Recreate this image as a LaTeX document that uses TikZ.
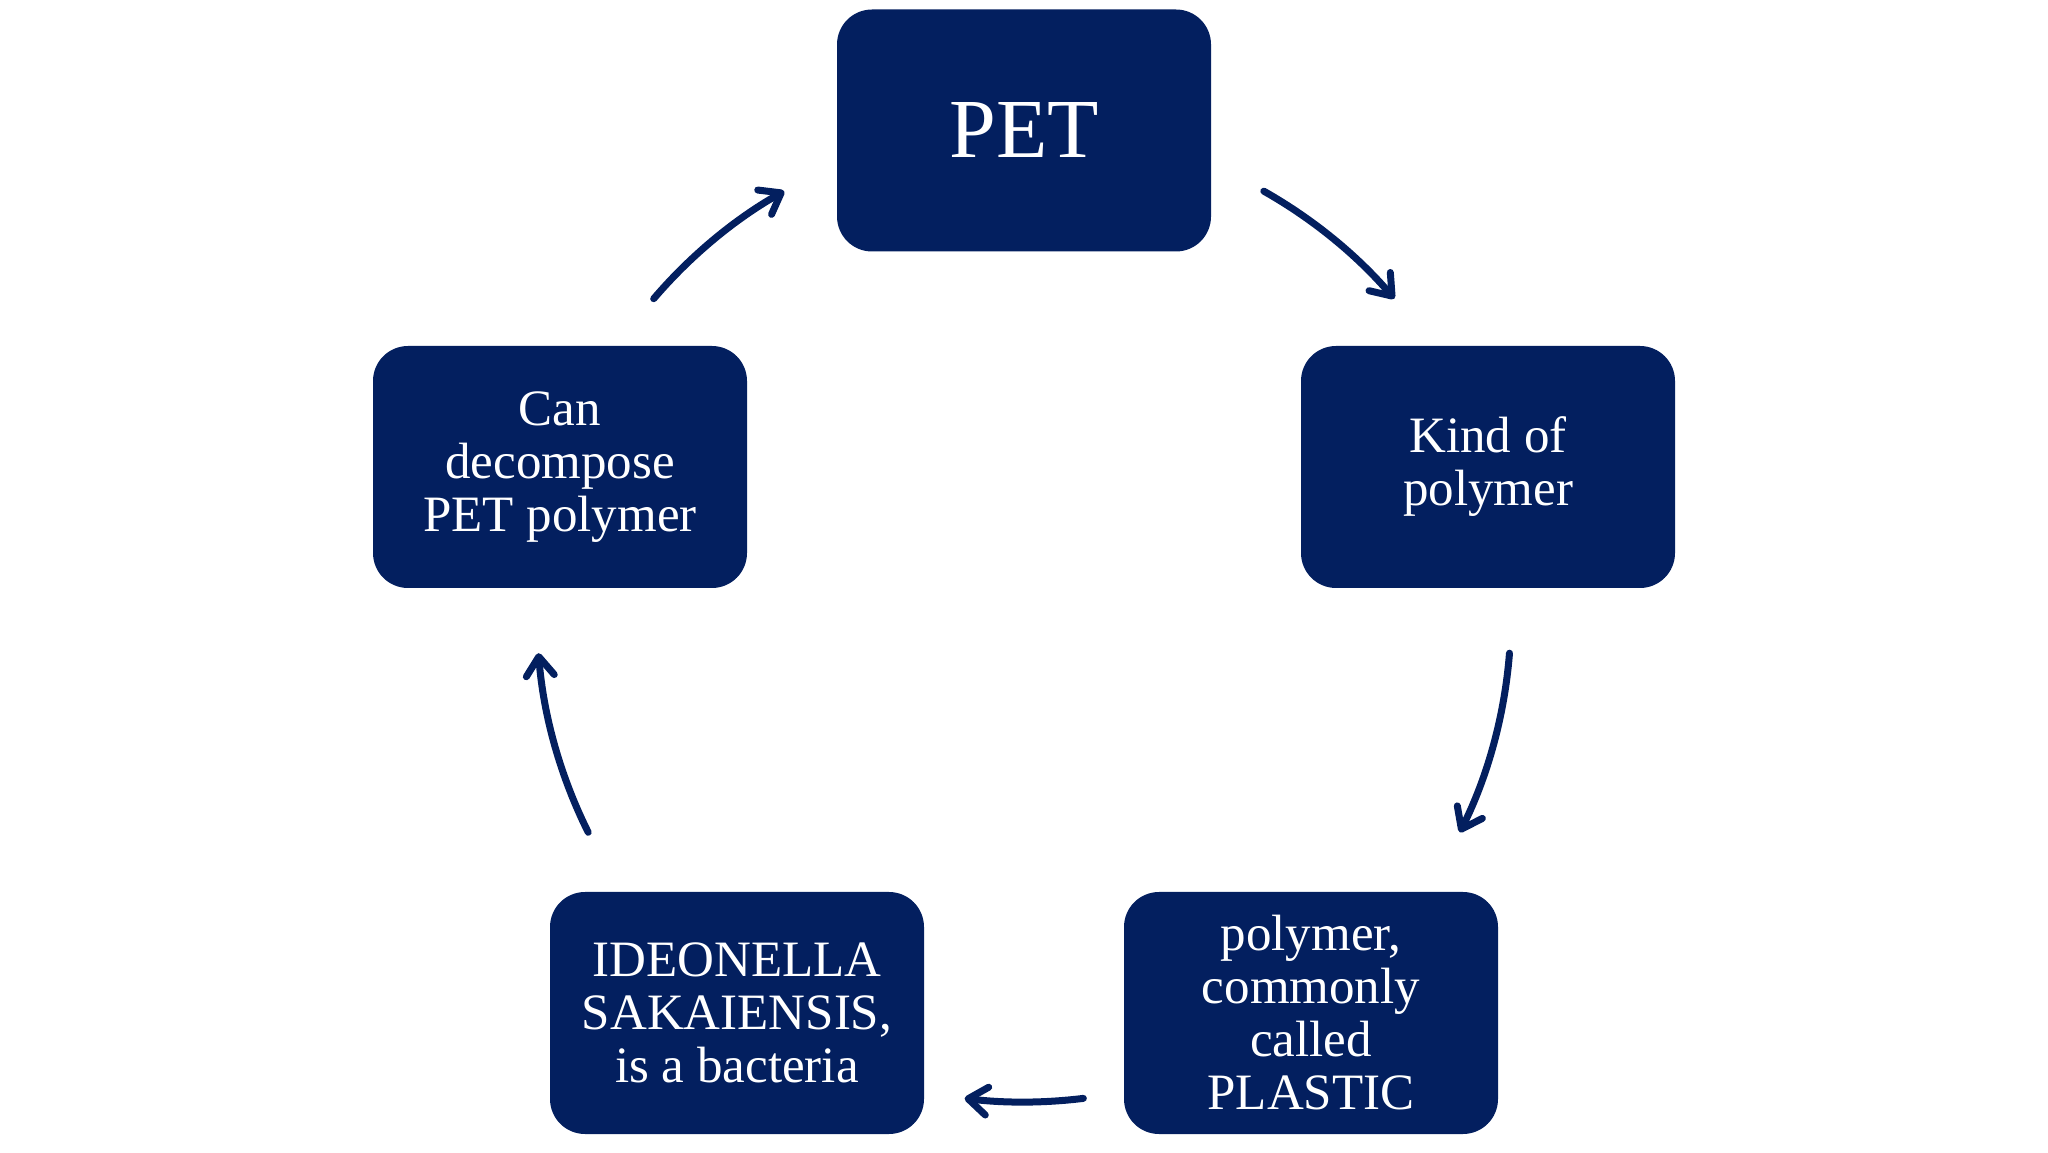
\documentclass[tikz,border=0pt]{standalone}
\usepackage{fontspec}
\setmainfont{Liberation Serif}
\usepackage{tikz}
\usetikzlibrary {arrows.meta}

\definecolor{navy}{RGB}{3,31,95}

\begin{document}
\begin{tikzpicture}[x=1pt,y=1pt,
  stage/.style={fill=navy, rounded corners=35pt, minimum width=374pt,
    minimum height=242pt, inner sep=0pt, text=white, align=center,
    font=\fontsize{51}{53}\selectfont},
  cyc/.style={navy, line width=7pt, line cap=round,
    -{Straight Barb[length=19pt, width=28pt, round]}}]
 \useasboundingbox (0,0) rectangle (2048,1152);
 \coordinate (hub) at (1024,537);
 \node[stage, font=\fontsize{84}{86}\selectfont] (pet) at (1024,1021.5) {PET};
 \node[stage] (kind) at (1488,685) {Kind of\\polymer};
 \node[stage] (plastic) at (1311,139) {polymer,\\commonly\\called\\PLASTIC};
 \node[stage] (bact) at (737,139) {IDEONELLA\\SAKAIENSIS,\\is a bacteria};
 \node[stage] (decomp) at (560,685) {Can\\decompose\\PET polymer};
% cycle arrows round the hub
 \foreach \a/\b in {60.5/40.5, -4.5/-26.5, -83/-97, 206.5/184.5, 139.5/119.5}
   \draw[cyc] (hub) ++(\a:487) arc[start angle=\a, end angle=\b, radius=487];
\end{tikzpicture}
\end{document}
